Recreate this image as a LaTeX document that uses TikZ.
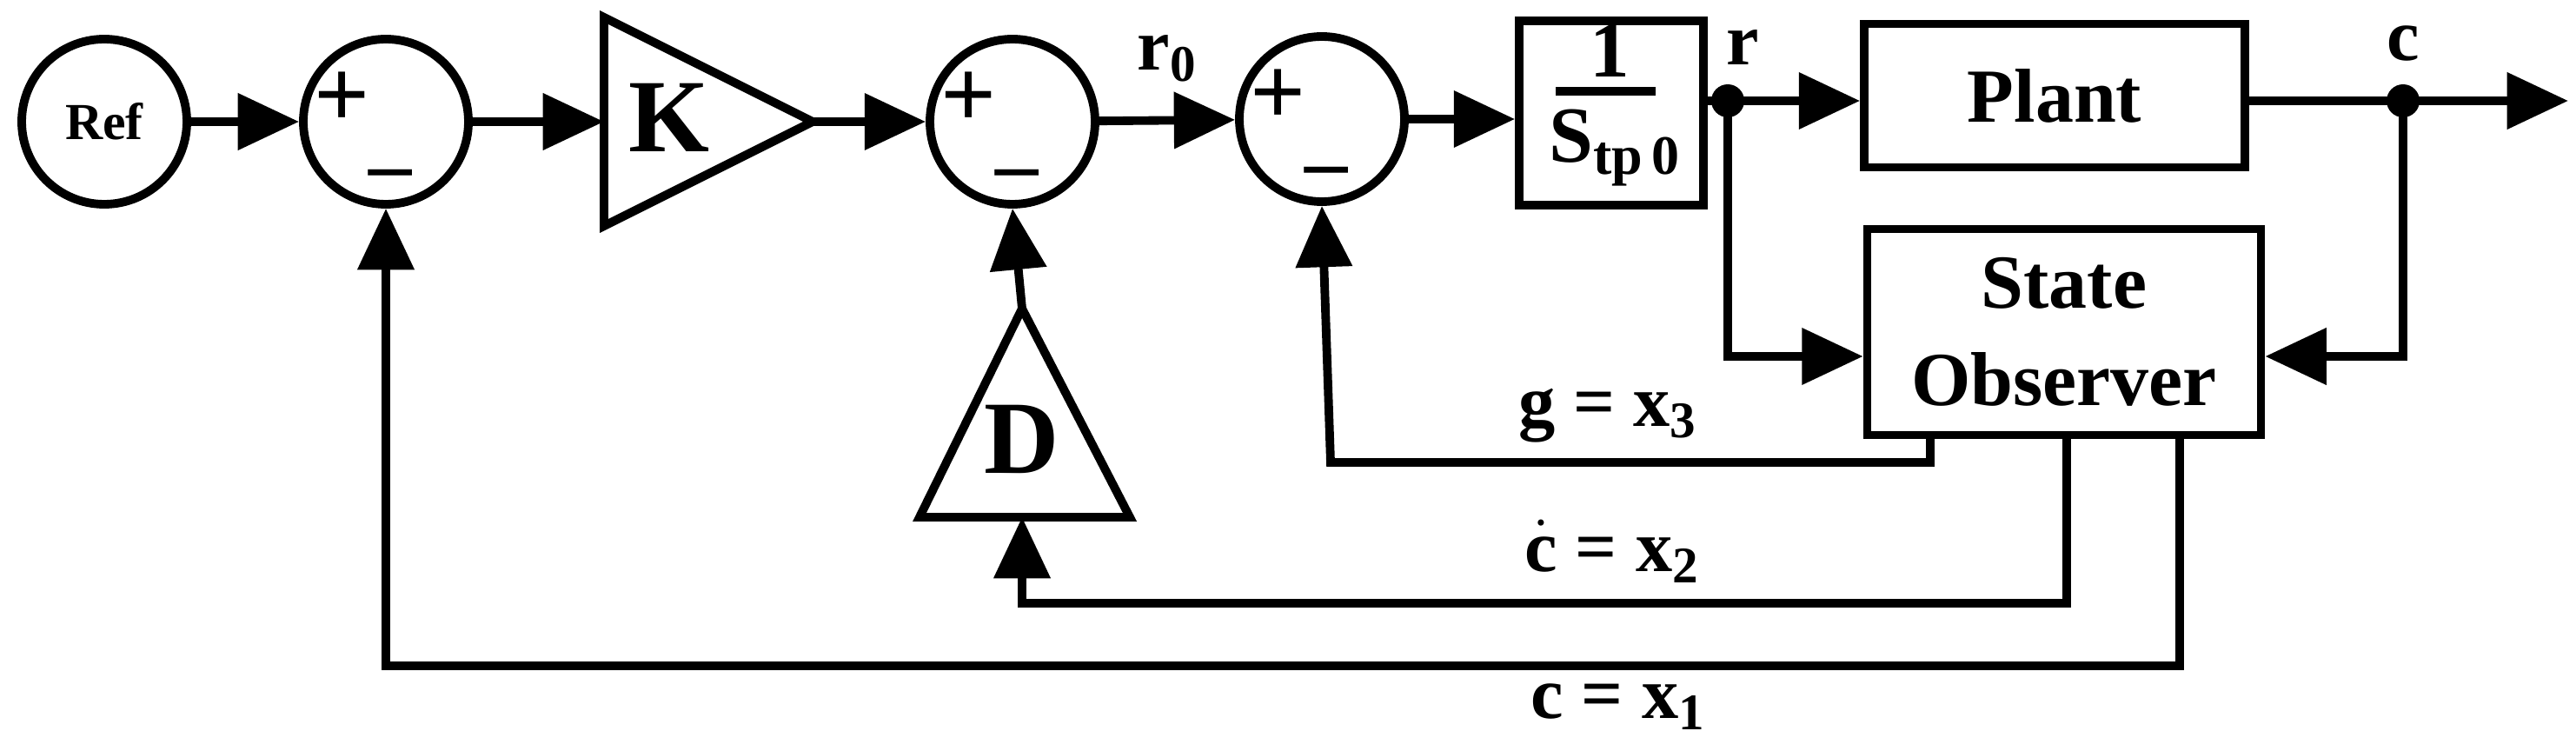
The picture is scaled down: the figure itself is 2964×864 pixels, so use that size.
\documentclass[tikz,border=0pt]{standalone}
\usepackage{fontspec}
\setmainfont{Liberation Serif}
\usetikzlibrary{arrows.meta}
\begin{document}
\begin{tikzpicture}[x=0.01cm,y=-0.01cm,line width=2.8pt,
  sumc/.style={draw,circle,minimum size=190*0.01cm,inner sep=0pt},
  blk/.style={draw,rectangle,inner sep=0pt,font=\bfseries\fontsize{25}{28}\selectfont},
  sig/.style={-{Triangle[length=20pt,width=18pt]}},
  lab/.style={font=\bfseries\fontsize{24}{26}\selectfont}]
\useasboundingbox (0,0) rectangle (2964,864);
\node[sumc,font=\bfseries\fontsize{17}{20}\selectfont] (ref) at (120,140) {Ref};
\node[sumc] (s1) at (444,140) {};
\node[sumc] (s2) at (1165,140) {};
\node[sumc] (s3) at (1521,137) {};
\foreach \s in {s1,s2,s3}{
  \node[font=\bfseries\fontsize{32}{32}\selectfont] at ([xshift=-0.5cm,yshift=0.25cm]\s) {+};
  \node[font=\bfseries\fontsize{28}{28}\selectfont] at ([xshift=0.05cm,yshift=-0.55cm]\s) {\_};
}
% K triangle
\draw (695,20) -- (935,140) -- (695,260) -- cycle;
\coordinate (kin) at (695,140); \coordinate (kout) at (935,140);
\node[font=\bfseries\fontsize{34}{36}\selectfont] at (770,135) {K};
% D triangle
\draw (1176,355) -- (1300,595) -- (1058,595) -- cycle;
\coordinate (dtop) at (1176,355); \coordinate (dbot) at (1176,595);
\node[font=\bfseries\fontsize{34}{36}\selectfont] at (1176,505) {D};
% 1/S box
\node[blk,minimum width=212*0.01cm,minimum height=212*0.01cm] (int) at (1854,130) {};
\node[font=\bfseries\fontsize{26}{28}\selectfont] at (1852,58) {1};
\draw (1790,105) -- (1905,105);
\node[font=\bfseries\fontsize{26}{28}\selectfont] at (1858,170) {S$_{\mathbf{tp\,0}}$};
\node[blk,minimum width=438*0.01cm,minimum height=165*0.01cm] (plant) at (2364,110) {Plant};
\node[blk,minimum width=453*0.01cm,minimum height=237*0.01cm,align=center] (obs) at (2375,382) {State\\[4pt]Observer};
\coordinate (jr) at (1988,116);
\coordinate (jc) at (2765,116);
\coordinate (out) at (2955,116);
\fill (jr) circle (9pt*0.6);
\fill (jc) circle (9pt*0.6);
\draw[sig] (ref) -- (s1);
\draw[sig] (s1) -- (kin);
\draw[sig] (kout) -- (s2);
\draw[sig] (s2) -- node[lab,above=8pt] {r$_{\mathbf 0}$} (s3);
\draw[sig] (s3) -- (int.west |- s3);
\draw (int.east |- jr) -- (jr);
\draw[sig] (jr) -- (plant.west |- jr);
\node[lab] at (2005,55) {r};
\draw (plant.east |- jc) -- (jc);
\draw[sig] (jc) -- (out);
\node[lab] at (2765,50) {c};
\draw[sig] (jr) |- (obs.west |- 0,410);
\draw[sig] (jc) |- (obs.east |- 0,410);
% feedback
\coordinate (o3) at (2221,501); \coordinate (o2) at (2378,501); \coordinate (o1) at (2508,501);
\draw[sig] (o3) -- (2221,532) -- (1531,532) -- (s3.south);
\draw[sig] (o2) -- (2378,694) -- (1176,694) -- (dbot);
\draw[sig] (dtop) -- (s2.south);
\draw[sig] (o1) -- (2508,766) -- (444,766) -- (s1.south);
\node[lab] at (1850,478) {g = x$_{\mathbf 3}$};
\node[lab] at (1855,634) {$\dot{\mbox{c}}$ = x$_{\mathbf 2}$};
\node[lab] at (1862,813) {c = x$_{\mathbf 1}$};
\end{tikzpicture}
\end{document}
